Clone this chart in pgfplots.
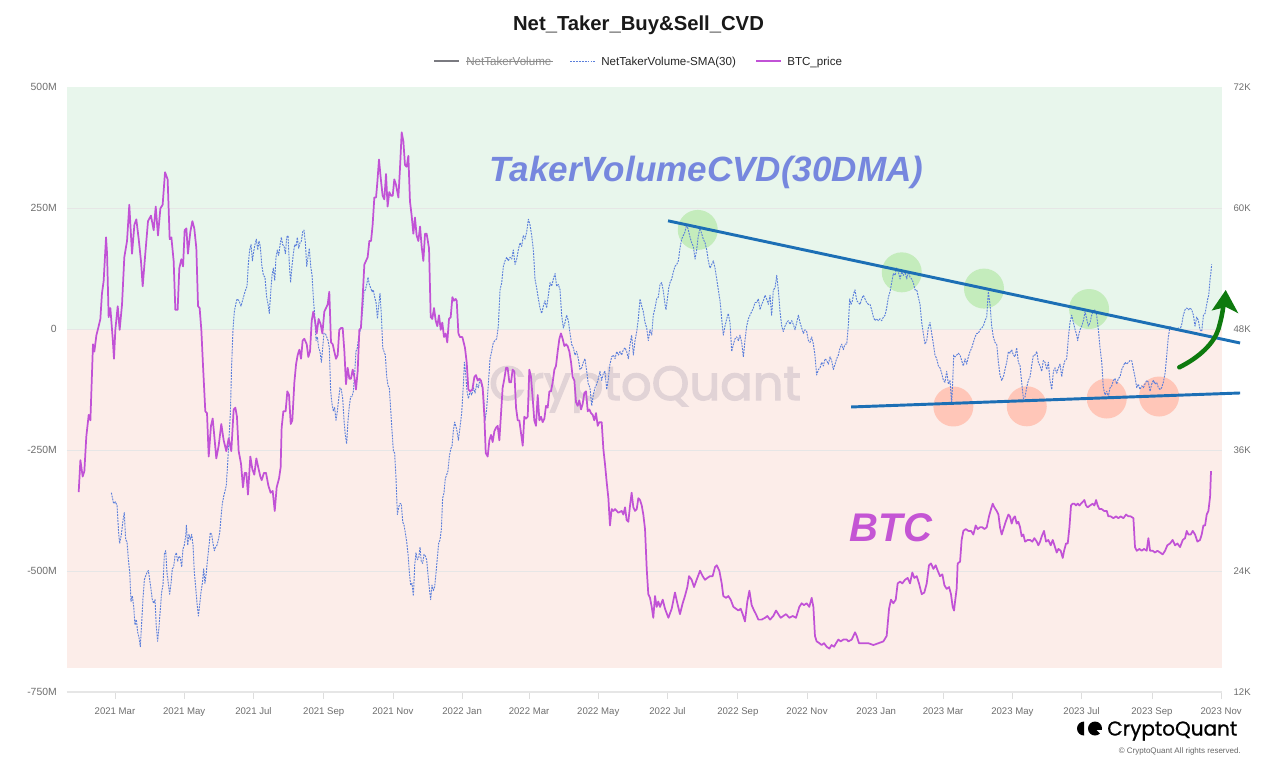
\documentclass[border=0pt]{standalone}
\usepackage{pgfplots}
\pgfplotsset{compat=1.18}
\usepackage{fontspec}
\setmainfont{Liberation Sans}
\newfontfamily\wmfont{Poppins}[FakeBold=2.4]
\newfontfamily\logofont{Poppins}[FakeBold=0.9]
\usetikzlibrary{arrows.meta}
\definecolor{greenbg}{HTML}{E8F6EC}
\definecolor{pinkbg}{HTML}{FCEDE9}
\definecolor{gridc}{HTML}{E6E6E6}
\definecolor{tickc}{HTML}{DDDDDD}
\definecolor{labelc}{HTML}{6E6E6E}
\definecolor{smac}{HTML}{5B7FDB}
\definecolor{btcc}{HTML}{C152D6}
\definecolor{wmc}{HTML}{E1D3D6}
\definecolor{trendc}{HTML}{1C6FB5}
\definecolor{gcirc}{HTML}{C4ECBC}
\definecolor{rcirc}{HTML}{FFC6B8}
\definecolor{takerc}{HTML}{7687DE}
\definecolor{btctxt}{HTML}{C455D4}
\definecolor{arrowc}{HTML}{0E7A0E}
\definecolor{leggray}{HTML}{7A7A80}
\begin{document}
\begin{tikzpicture}
\fill[white] (0,0) rectangle (960pt,-573.75pt);
\useasboundingbox (0,0) rectangle (960pt,-573.75pt);

\begin{axis}[
  at={(50.25pt,-519pt)}, anchor=south west,
  scale only axis, width=866.25pt, height=453.75pt,
  xmin=16.69, xmax=1034.8, ymin=-750, ymax=500,
  clip=false,
  axis line style={draw=none},
  xtick pos=bottom,
  xtick={59,120,181,243,304,365,424,485,546,608,669,730,789,850,911,973,1034},
  xticklabels={2021 Mar,2021 May,2021 Jul,2021 Sep,2021 Nov,2022 Jan,2022 Mar,2022 May,2022 Jul,2022 Sep,2022 Nov,2023 Jan,2023 Mar,2023 May,2023 Jul,2023 Sep,2023 Nov},
  ytick={-750,-500,-250,0,250,500},
  yticklabels={-750M,-500M,-250M,0,250M,500M},
  tick align=outside,
  major tick length=5.25pt,
  xtick style={draw=tickc, line width=0.6pt},
  ytick style={draw=none},
  /pgf/number format/assume math mode=true,
  xticklabel style={font=\fontsize{7.2}{8.6}\selectfont, text=labelc, yshift=-3pt},
  yticklabel style={font=\fontsize{7.8}{9}\selectfont, text=labelc, inner sep=0pt, xshift=-2.25pt},
]
\fill[greenbg] (axis cs:16.69,0) rectangle (axis cs:1034.8,500);
\fill[pinkbg] (axis cs:16.69,-700) rectangle (axis cs:1034.8,0);
\draw[gridc, line width=0.6pt] (axis cs:16.69,250) -- (axis cs:1034.8,250);
\draw[gridc, line width=0.6pt] (axis cs:16.69,0) -- (axis cs:1034.8,0);
\draw[gridc, line width=0.6pt] (axis cs:16.69,-250) -- (axis cs:1034.8,-250);
\draw[gridc, line width=0.6pt] (axis cs:16.69,-500) -- (axis cs:1034.8,-500);
\draw[gridc, line width=0.8pt] (axis cs:16.69,-750) -- (axis cs:1034.8,-750);
\node[anchor=base, text=wmc, font=\wmfont\fontsize{36}{40}\selectfont, inner sep=0pt] at (rel axis cs:0.5004,0.4826) {CryptoQuant};
% circles
\fill[gcirc] (axis cs:572.7,204.7) circle[radius=15pt];
\fill[gcirc] (axis cs:752.5,117.1) circle[radius=15pt];
\fill[gcirc] (axis cs:825.0,83.5) circle[radius=15pt];
\fill[gcirc] (axis cs:917.6,41.3) circle[radius=15pt];
\fill[rcirc] (axis cs:798.0,-160.1) circle[radius=15pt];
\fill[rcirc] (axis cs:862.7,-159.7) circle[radius=15pt];
\fill[rcirc] (axis cs:933.2,-143.6) circle[radius=15pt];
\fill[rcirc] (axis cs:979.3,-139.5) circle[radius=15pt];
% SMA
\addplot[smac, line width=0.7pt, dash pattern=on 1.4pt off 0.8pt, line join=round] coordinates {
(55.8,-338.3) (57.8,-360.7) (59.3,-357.0) (60.8,-364.5) (62.2,-420.6) (63.1,-443.1) (64.6,-424.4) (66.1,-394.4) (67.2,-379.5) (68.4,-435.6) (69.6,-439.3) (70.8,-476.8) (72.0,-502.9) (73.1,-562.8) (74.3,-551.6) (75.5,-574.0) (76.6,-611.5) (77.8,-600.3) (79.0,-626.5) (80.2,-637.7) (81.3,-656.4) (82.5,-607.7) (83.7,-555.3) (84.9,-517.9) (86.0,-510.4) (87.2,-502.9) (88.4,-499.2) (89.6,-517.9) (90.7,-536.6) (91.9,-559.1) (93.1,-566.6) (94.3,-559.1) (95.4,-615.2) (96.6,-645.2) (97.8,-615.2) (99.0,-577.8) (100.1,-544.1) (101.3,-529.1) (102.5,-465.5) (103.7,-458.0) (104.8,-502.9) (106.0,-525.4) (107.2,-547.9) (108.4,-525.4) (109.5,-495.5) (110.7,-491.7) (111.9,-469.3) (113.1,-461.8) (114.2,-480.5) (115.4,-469.3) (116.6,-473.0) (117.8,-491.7) (118.9,-454.3) (120.1,-446.8) (121.3,-428.1) (121.9,-405.6) (123.1,-446.8) (124.2,-424.4) (125.4,-435.6) (126.6,-424.4) (127.8,-446.8) (128.9,-502.9) (130.1,-532.9) (131.3,-566.6) (132.5,-592.8) (133.6,-570.3) (134.8,-544.1) (136.0,-525.4) (137.2,-495.5) (138.3,-525.4) (139.5,-502.9) (140.7,-473.0) (141.9,-446.8) (143.0,-420.6) (144.2,-424.4) (145.4,-443.1) (146.6,-458.0) (147.7,-450.6) (148.9,-446.8) (150.1,-435.6) (151.3,-420.6) (152.4,-390.7) (153.6,-360.7) (154.8,-345.8) (156.0,-334.5) (157.1,-323.3) (158.3,-278.4) (159.5,-226.0) (160.7,-173.6) (161.8,-76.3) (163.0,-1.5) (164.2,36.0) (165.4,50.9) (166.6,62.2) (168.3,58.4) (170.1,47.2) (171.8,62.2) (173.6,77.1) (175.4,88.4) (176.5,133.3) (177.7,163.2) (178.9,174.4) (180.1,140.8) (181.2,159.5) (182.4,174.4) (183.6,185.7) (184.8,163.2) (185.9,181.9) (187.1,170.7)
(188.3,133.3) (189.8,110.8) (191.2,107.1) (192.7,65.9) (194.2,47.2) (195.0,32.2) (196.2,73.4) (197.4,110.8) (198.6,125.8) (199.8,99.6) (200.9,148.2) (202.1,163.2) (203.3,152.0) (204.5,174.4) (205.6,189.4) (206.8,174.4) (208.0,170.7) (209.2,155.7) (210.3,189.4) (211.5,193.2) (212.7,133.3) (213.8,95.8) (215.0,129.5) (216.2,155.7) (217.4,174.4) (218.6,170.7) (219.7,189.4) (220.9,166.9) (222.1,178.2) (223.3,181.9) (224.4,200.6) (225.6,204.4) (226.8,178.2) (228.0,129.5) (229.1,148.2) (230.3,166.9) (231.5,129.5) (232.7,110.8) (233.8,65.9) (235.0,28.5) (236.2,-23.9) (237.4,-16.4) (238.5,-38.9) (239.7,-46.4) (240.9,-68.8) (242.1,-38.9) (243.2,-9.0) (244.4,-9.0) (245.6,-16.4) (246.8,-23.9) (247.9,-38.9) (249.1,-128.7) (250.3,-154.9) (251.5,-169.9) (252.6,-162.4) (253.8,-188.6) (255.0,-169.9) (256.2,-143.7) (257.3,-121.2) (258.5,-125.0) (259.7,-143.7) (260.9,-188.6) (262.0,-218.5) (263.2,-237.2) (264.4,-188.6) (265.6,-158.6) (266.7,-139.9) (267.9,-139.9) (269.1,-128.7) (270.3,-91.3) (271.4,-46.4) (272.6,-38.9) (273.8,-16.4) (275.0,-5.2) (276.1,13.5) (277.3,39.7) (278.5,77.1) (279.7,80.9) (280.9,92.1) (282.0,107.1) (283.2,92.1) (284.4,84.6) (285.6,77.1) (286.7,80.9) (287.9,65.9) (289.1,54.7) (290.3,21.0) (291.4,47.2) (292.6,73.4) (293.8,28.5) (295.0,-38.9) (296.1,-46.4) (297.3,-53.9) (298.5,-98.8) (299.7,-117.5) (300.8,-121.2) (302.0,-166.1) (303.2,-211.0) (304.4,-252.2) (305.5,-256.0) (306.7,-308.3) (307.9,-383.2) (309.1,-368.2) (310.2,-360.7) (311.4,-360.7) (312.6,-398.2) (313.8,-405.6) (314.9,-420.6) (316.1,-439.3) (317.3,-465.5) (318.5,-502.9) (319.6,-529.1) (320.8,-525.4) (322.0,-551.6) (323.2,-488.0) (324.3,-461.8) (325.5,-476.8) (326.7,-473.0) (327.9,-450.6) (329.0,-480.5) (330.2,-484.2) (331.4,-465.5) (332.6,-469.3) (333.7,-476.8) (334.9,-506.7) (336.1,-536.6) (337.3,-559.1) (338.4,-529.1) (339.6,-540.4) (340.8,-532.9) (342.0,-502.9) (343.1,-473.0) (344.3,-443.1) (345.5,-435.6) (346.7,-413.2) (347.8,-349.5) (349.0,-338.3) (350.2,-308.3) (351.4,-300.9) (352.5,-293.4) (353.7,-263.4) (354.9,-248.5) (356.1,-241.0) (357.2,-211.0) (358.4,-192.4)
(360.2,-207.3) (361.7,-229.8) (363.1,-203.6) (364.6,-173.6) (366.1,-113.7) (367.0,-68.8) (368.1,-91.3) (369.3,-128.7) (370.5,-143.7) (372.0,-128.7) (373.4,-136.2) (374.9,-121.2) (376.4,-132.4) (377.8,-113.7) (379.3,-121.2) (380.8,-102.5) (382.2,-117.5) (383.7,-128.7) (385.2,-188.6) (386.6,-166.1) (388.1,-113.7) (389.6,-61.4) (391.0,-46.4) (392.5,-27.7) (394.0,-23.9) (395.4,-20.2) (396.9,6.0) (398.4,80.9) (399.9,95.8) (401.3,129.5) (402.8,140.8) (404.3,148.2) (405.7,140.8) (407.2,148.2) (408.7,144.5) (410.1,163.2) (411.6,133.3) (413.1,144.5) (414.5,163.2) (416.0,178.2) (417.5,170.7) (418.9,193.2) (420.4,185.7) (421.9,200.6) (423.4,226.8) (424.8,215.6) (426.3,193.2) (427.8,163.2) (429.2,103.3) (430.7,84.6) (432.2,62.2) (433.6,43.4) (435.1,32.2) (436.6,47.2) (438.0,58.4) (439.5,43.4) (441.0,69.6) (442.5,95.8) (443.9,88.4) (445.4,103.3) (446.9,114.6) (448.3,88.4) (449.8,92.1) (451.3,80.9) (452.7,28.5) (454.2,2.2) (455.7,13.5) (457.1,28.5) (458.6,17.2) (460.1,-9.0) (461.5,-31.4) (463.0,-38.9) (464.5,-53.9) (465.9,-46.4) (467.4,-61.4) (468.9,-83.8) (470.4,-80.1) (471.8,-68.8) (473.3,-61.4) (474.8,-87.5) (476.2,-113.7) (477.7,-121.2) (479.2,-158.6) (480.6,-136.2) (482.1,-121.2) (483.6,-113.7) (485.1,-102.5) (486.5,-87.5) (488.0,-106.2) (489.5,-91.3) (490.9,-87.5) (492.4,-125.0) (493.9,-102.5) (495.3,-72.6) (496.8,-57.6) (498.3,-53.9) (499.8,-61.4) (501.2,-46.4) (502.7,-53.9) (504.2,-46.4) (505.6,-53.9) (507.1,-42.6) (508.6,-38.9) (510.0,-46.4) (511.5,-61.4) (513.0,-31.4) (514.4,-12.7) (515.9,-53.9) (517.4,-23.9) (518.9,-5.2) (520.3,21.0) (521.8,62.2) (523.3,47.2) (524.7,35.9) (526.2,13.5) (527.7,2.2) (529.1,-23.9) (530.6,-1.5)
(532.1,-12.7) (533.5,28.5) (535.0,43.4) (536.5,62.2) (537.9,65.9) (539.4,92.1) (540.9,95.8) (542.4,77.1) (543.8,50.9) (544.7,39.7) (545.9,62.2) (547.1,84.6) (548.2,95.8) (549.7,103.3) (551.2,118.3) (552.6,129.5) (554.1,133.3) (555.6,140.8) (557.0,166.9) (558.5,185.7) (560.0,193.2) (561.4,200.6) (562.9,215.6) (564.4,204.4) (565.9,189.4) (567.3,178.2) (568.8,170.7) (570.3,144.5) (571.7,163.2) (573.2,193.2) (574.7,208.1) (576.1,196.9) (577.6,185.7) (579.1,178.2) (580.6,163.2) (582.0,140.8) (583.5,125.8) (585.0,133.3) (586.4,140.8) (587.9,125.8) (589.4,103.3) (590.8,80.9) (592.3,58.4) (593.8,21.0) (595.2,-12.7) (596.7,6.0) (598.2,21.0) (599.6,32.2) (601.1,13.5) (602.6,-46.4) (604.1,-31.4) (605.5,-20.2) (607.0,-16.4) (608.5,-23.9) (609.9,-12.7) (611.4,-27.7) (612.9,-57.6) (614.3,-23.9) (615.8,6.0) (617.3,21.0) (618.7,28.5) (620.2,35.9) (621.7,43.4) (623.2,54.7) (624.6,54.7) (626.1,62.2) (627.6,39.7) (629.0,50.9) (630.5,58.4) (632.0,69.6) (633.4,62.2) (634.9,50.9) (636.4,69.6) (637.8,28.5) (639.3,80.9) (640.8,84.6) (642.3,110.8) (643.7,80.9) (645.2,35.9) (646.7,6.0) (648.1,-5.2) (649.6,6.0) (651.1,13.5) (652.5,17.2) (654.0,9.8) (655.5,17.2) (656.9,9.8) (658.4,-1.5) (659.9,13.5) (661.4,28.5) (662.8,13.5) (664.3,2.2) (665.8,-9.0) (667.2,-1.5) (668.7,-5.2) (670.2,-23.9) (671.6,-27.7) (673.1,-16.4) (674.6,-31.4) (676.0,-53.9) (677.5,-95.1) (679.0,-83.8) (680.5,-80.1) (681.9,-68.8) (683.4,-76.3) (684.9,-61.4) (686.3,-65.1) (687.8,-72.6) (689.3,-57.6) (690.7,-65.1) (692.2,-83.8) (693.7,-72.6) (695.1,-61.4) (696.6,-53.9) (698.1,-38.9) (699.6,-31.4) (701.0,-42.6) (702.5,-31.4)
(704.0,-31.4) (705.4,6.0) (706.6,62.2) (707.8,50.9) (709.0,58.4) (710.1,73.4) (711.3,80.9) (712.8,58.4) (714.3,54.7) (715.7,50.9) (717.2,62.2) (718.7,69.6) (720.1,62.2) (721.6,54.7) (723.1,50.9) (724.5,50.9) (726.0,39.7) (727.5,24.7) (728.9,17.2) (730.4,21.0) (731.9,17.2) (733.3,21.0) (734.8,17.2) (736.3,24.7) (737.8,28.5) (739.2,43.4) (740.7,65.9) (742.2,77.1) (743.6,95.8) (745.1,114.6) (746.6,110.8) (748.0,125.8) (749.5,118.3) (751.0,103.3) (752.4,118.3) (753.9,110.8) (755.4,118.3) (756.9,103.3) (758.3,118.3) (759.8,107.1) (761.3,103.3) (762.7,95.8) (764.2,80.9) (765.7,80.9) (767.1,65.9) (768.6,50.9) (770.1,13.5) (771.5,-9.0) (773.0,-31.4) (774.5,-23.9) (775.9,2.2) (777.4,13.5) (778.9,-9.0) (780.4,-31.4) (781.8,-53.9) (783.3,-61.4) (784.8,-76.3) (786.2,-80.1) (787.7,-91.3) (789.2,-106.2) (790.6,-110.0) (792.1,-87.5) (793.6,-113.7) (795.0,-106.2) (796.5,-151.2) (797.4,-110.0) (798.3,-53.9) (799.5,-57.6) (800.9,-53.9) (802.4,-50.1) (803.9,-53.9) (805.3,-65.1) (806.8,-76.3) (808.3,-61.4) (809.7,-72.6) (811.2,-57.6) (812.7,-46.4) (814.2,-38.9) (815.6,-27.7) (817.1,-16.4) (818.6,-9.0) (820.0,-9.0) (821.5,-1.5) (823.0,2.2) (824.4,6.0) (825.9,17.2) (827.4,24.7) (828.8,77.1) (830.3,50.9) (831.8,6.0) (833.2,-16.4) (834.7,-27.7) (836.2,-31.4) (837.7,-68.8) (839.1,-95.1) (840.6,-106.2) (842.1,-98.8) (843.5,-83.8) (845.0,-68.8) (846.5,-46.4) (847.9,-50.1) (849.4,-42.6) (850.9,-53.9) (852.3,-57.6) (853.8,-38.9) (855.3,-68.8) (856.8,-76.3) (858.2,-110.0) (859.7,-143.7) (861.2,-140.0) (862.6,-121.2) (864.1,-106.2) (865.6,-98.8) (867.0,-76.3) (868.5,-53.9) (870.0,-53.9) (871.5,-46.4) (872.9,-68.8) (874.4,-76.3)
(875.9,-87.5) (877.3,-65.1) (878.8,-68.8) (880.3,-83.8) (881.7,-68.8) (883.2,-106.2) (884.7,-125.0) (886.2,-87.5) (887.6,-80.1) (889.1,-91.3) (890.6,-80.1) (892.0,-72.6) (893.5,-98.8) (895.0,-76.3) (896.4,-65.1) (897.9,-61.4) (899.4,-16.4) (900.8,13.5) (902.3,28.5) (903.8,13.5) (905.3,-1.5) (906.7,-12.7) (907.6,-23.9) (908.8,-9.0) (909.7,-1.5) (911.1,6.0) (912.6,17.2) (914.1,35.9) (915.5,21.0) (917.0,6.0) (918.5,13.5) (919.9,28.5) (921.4,35.9) (922.9,39.7) (924.3,28.5) (925.8,-1.5) (927.3,-38.9) (928.8,-68.8) (930.2,-121.2) (931.7,-136.2) (933.2,-128.7) (934.6,-140.0) (936.1,-121.2) (937.6,-117.5) (939.0,-106.2) (940.5,-102.5) (942.0,-113.7) (943.4,-102.5) (944.9,-98.8) (946.4,-83.8) (947.9,-76.3) (949.3,-68.8) (950.8,-72.6) (952.3,-68.8) (953.7,-65.1) (955.2,-65.1) (956.7,-83.8) (958.1,-98.8) (959.6,-121.2) (961.1,-113.7) (962.5,-125.0) (964.0,-117.5) (965.5,-121.2) (966.9,-113.7) (968.4,-106.2) (969.9,-110.0) (971.4,-128.7) (972.8,-113.7) (974.3,-106.2) (975.8,-113.7) (977.2,-110.0) (978.7,-121.2) (980.2,-125.0) (981.6,-121.2) (983.1,-110.0) (984.6,-91.3) (986.1,-53.9) (987.5,-16.4) (989.0,6.0) (990.5,2.2) (991.9,0) (993.4,2.2) (994.9,-1.5) (996.3,2.2) (997.8,-1.5) (999.3,9.8) (1000.7,28.5) (1002.2,39.7) (1003.7,43.4) (1005.2,39.7) (1006.6,43.4) (1008.1,39.7) (1009.6,28.5) (1011.0,6.0) (1012.5,24.7) (1014.0,17.2) (1015.4,-1.5) (1016.9,-5.2) (1018.4,28.5) (1019.9,32.2) (1021.3,50.9) (1022.2,62.2) (1023.1,69.6) (1024.3,103.3) (1025.1,118.3) (1025.7,133.3)
};
% trend lines
\draw[trendc, line width=2.2pt] (axis cs:546.5,223.5) -- (axis cs:1050.7,-28.9);
\draw[trendc, line width=2.2pt] (axis cs:707.8,-161.1) -- (axis cs:1050.7,-132.2);
\end{axis}

\begin{axis}[
  at={(50.25pt,-519pt)}, anchor=south west,
  scale only axis, width=866.25pt, height=453.75pt,
  xmin=16.69, xmax=1034.8, ymin=12, ymax=72,
  hide x axis,
  axis y line*=right,
  axis line style={draw=none},
  ytick={12,24,36,48,60,72},
  yticklabels={12K,24K,36K,48K,60K,72K},
  ytick style={draw=none},
  yticklabel style={font=\fontsize{7.2}{8.6}\selectfont, text=labelc, anchor=west, inner sep=0pt, xshift=8.5pt},
]
\addplot[btcc, line width=1.3pt, line join=round] coordinates {
(27.0,31.83) (28.5,34.99) (30.5,33.37) (32.0,33.91) (33.7,37.32) (35.8,39.48) (37.3,38.94) (39.6,46.49) (40.8,45.77) (42.6,47.38) (44.6,48.28) (46.1,49.0) (47.5,51.52) (49.0,52.77) (51.1,57.09) (52.0,55.47) (53.4,49.18) (54.9,50.08) (57.0,47.03) (58.1,45.05) (59.3,47.92) (61.4,50.26) (63.1,47.92) (65.2,50.44) (67.2,55.11) (69.6,56.73) (71.6,60.32) (74.0,55.47) (76.1,58.34) (77.8,58.88) (79.9,56.91) (81.9,54.75) (83.4,52.24) (85.7,55.47) (88.1,58.70) (90.7,59.24) (93.1,57.80) (94.9,60.14) (96.9,57.27) (99.0,59.96) (101.0,60.32) (103.1,63.55) (105.4,62.84) (107.2,56.91) (108.7,57.09) (110.7,54.75) (112.2,49.90) (114.2,49.90) (115.7,54.03) (117.5,54.93) (119.0,54.21) (120.4,57.80) (121.9,57.98) (123.3,55.47) (125.4,57.63) (127.2,58.70) (128.9,57.98) (130.7,56.01) (132.2,50.26) (133.6,50.08) (135.1,47.92) (136.6,44.33) (138.6,39.84) (140.1,39.66) (141.6,35.35) (143.6,38.40) (145.1,39.12) (146.6,37.32) (148.3,35.17) (150.4,36.43) (152.7,38.58) (154.8,36.96) (157.1,35.89) (159.2,37.15) (161.5,35.89) (163.6,40.02) (165.1,40.20) (166.5,39.30) (168.0,35.89) (170.1,34.63) (171.8,32.30) (173.3,33.73) (174.8,33.73) (176.2,31.58) (178.3,35.35) (180.1,34.09) (181.8,33.55) (183.6,35.17) (185.3,34.27) (187.1,33.37)
(188.3,33.01) (190.3,33.73) (192.1,33.73) (194.2,32.47) (196.2,31.76) (198.0,31.94) (199.8,29.96) (201.5,32.29) (203.6,33.19) (205.0,34.27) (205.9,38.22) (207.4,39.84) (209.4,39.84) (210.9,41.82) (212.4,41.46) (213.9,38.58) (215.3,38.94) (217.1,42.71) (218.6,44.51) (220.0,45.41) (221.5,45.95) (223.0,45.05) (224.4,46.85) (225.9,47.03) (228.0,46.49) (229.4,45.23) (230.9,45.77) (232.4,48.82) (233.8,49.72) (235.3,48.82) (236.8,47.56) (238.5,49.0) (240.3,48.46) (241.8,47.56) (243.5,49.72) (245.0,50.08) (246.5,50.44) (247.9,51.70) (249.4,46.67) (250.9,46.49) (252.3,45.77) (253.8,45.05) (255.3,45.41) (256.7,47.92) (258.2,48.10) (259.7,48.10) (261.2,45.77) (262.6,42.53) (264.1,44.15) (265.6,43.07) (267.0,43.07) (268.5,43.97) (270.0,43.25) (271.4,42.0) (272.9,43.79) (274.4,47.92) (275.8,48.10) (277.3,51.16) (278.8,54.39) (280.2,54.75) (281.7,55.11) (283.2,56.73) (284.7,56.73) (286.1,58.34) (287.6,61.04) (289.1,61.04) (290.2,62.48) (291.7,64.81) (293.2,63.01) (294.9,61.22) (296.4,60.86) (297.9,63.37) (299.3,60.14) (300.8,61.58) (302.3,61.22) (303.8,61.22) (305.2,62.84) (306.7,62.30) (308.8,61.04) (310.2,63.91) (311.7,67.51) (313.2,66.61) (314.6,64.27) (316.1,64.09) (317.6,65.17) (319.0,60.68) (320.5,59.24) (322.0,57.45) (323.4,59.06) (324.9,57.27) (326.4,56.73) (327.9,58.16) (329.3,56.19) (330.8,54.75) (332.3,57.45) (333.7,57.45) (335.8,56.01) (337.3,49.18) (338.7,49.0) (340.2,50.08) (341.7,48.82) (343.1,48.28) (344.6,49.36) (346.1,47.92) (347.5,48.64) (349.0,47.21) (350.5,47.56) (351.9,46.67) (353.4,49.0) (354.9,49.18) (356.4,51.16) (357.8,50.80) (359.3,50.98)
(360.2,50.80) (361.7,47.56) (363.1,47.20) (365.2,47.20) (367.5,46.13) (369.0,44.69) (370.5,42.0) (372.0,41.82) (374.0,42.0) (375.8,43.25) (377.2,43.43) (378.7,42.89) (380.2,43.07) (381.6,42.89) (383.1,42.18) (384.6,39.30) (385.8,35.71) (387.5,35.35) (389.0,36.96) (390.5,37.50) (391.9,36.79) (393.4,37.86) (394.9,38.22) (396.3,38.40) (397.8,36.96) (399.3,39.66) (400.7,42.18) (402.2,43.07) (403.7,44.15) (405.1,44.15) (406.6,42.71) (408.1,42.71) (409.5,43.97) (411.0,43.79) (412.5,40.20) (414.0,38.94) (415.4,38.94) (416.9,37.68) (418.4,36.43) (419.8,39.30) (421.3,39.12) (422.8,39.30) (424.2,43.97) (425.7,43.25) (427.2,41.10) (428.6,38.94) (430.1,38.40) (431.6,41.46) (433.1,38.94) (434.5,39.30) (436.0,38.76) (437.5,39.12) (438.9,40.38) (440.4,40.20) (441.9,41.82) (443.3,41.82) (444.8,42.71) (446.3,43.97) (447.7,44.33) (449.2,45.77) (450.7,47.03) (452.1,47.56) (453.6,47.03) (455.1,46.31) (456.6,46.49) (458.0,46.31) (459.5,45.77) (461.0,44.69) (462.4,43.25) (463.9,42.89) (465.4,40.74) (466.8,40.38) (468.3,40.92) (469.8,40.02) (471.2,40.56) (472.7,41.64) (474.2,41.82) (475.7,39.84) (477.1,40.02) (478.6,39.66) (480.1,39.48) (481.5,38.94) (483.0,39.66) (484.5,38.40) (485.9,38.76) (488.0,38.76) (489.5,36.07) (490.9,34.63) (492.4,32.83) (493.9,31.22) (495.3,28.52) (496.8,30.14) (498.3,29.96) (499.8,30.14) (502.7,29.78) (505.6,29.96) (507.1,29.60) (508.6,30.32) (510.0,29.06) (511.5,28.88) (513.0,30.50) (514.4,31.76) (515.9,30.32) (517.4,29.96) (518.9,30.14) (520.3,31.22) (521.8,31.04) (523.3,30.50) (524.7,29.60) (526.2,28.16) (527.7,24.21) (529.1,21.70) (530.6,21.34) (532.1,20.44)
(533.5,19.36) (535.0,21.52) (536.5,20.44) (537.9,20.98) (539.4,20.44) (541.8,21.16) (543.8,20.26) (546.8,19.36) (549.7,20.26) (552.6,21.87) (554.7,20.80) (557.0,19.72) (559.4,20.80) (561.4,21.52) (563.5,22.41) (565.0,23.49) (567.3,23.13) (569.4,22.41) (571.7,23.13) (574.7,24.03) (577.0,23.49) (579.1,23.13) (581.1,23.31) (583.5,23.49) (585.8,23.49) (587.9,24.39) (589.4,24.57) (591.7,24.03) (593.8,22.77) (595.2,21.52) (597.6,21.34) (599.6,21.52) (601.7,21.16) (604.1,20.44) (606.4,20.26) (608.5,20.08) (610.5,20.26) (612.3,19.72) (614.3,19.0) (616.4,20.98) (618.2,22.05) (620.2,20.62) (622.3,20.08) (624.0,19.72) (626.1,19.18) (629.0,19.18) (632.0,19.36) (634.0,19.54) (636.4,19.18) (639.3,19.54) (641.7,20.08) (643.7,19.72) (645.8,19.36) (648.1,19.54) (650.5,19.72) (653.4,19.36) (656.4,19.54) (659.3,19.36) (662.2,20.44) (664.3,20.80) (666.3,20.62) (668.7,20.80) (671.0,20.44) (673.1,21.34) (674.6,20.44) (676.0,17.56) (677.5,17.02) (679.9,16.84) (681.9,16.66) (684.0,16.84) (686.3,16.49) (688.7,16.31) (690.7,16.66) (692.8,16.49) (694.6,16.84) (696.6,17.20) (698.7,17.02) (701.0,17.20) (704.0,17.20)
(705.4,17.02) (708.4,17.20) (711.3,17.92) (712.8,17.56) (714.8,16.84) (718.7,16.84) (723.1,16.84) (727.5,16.66) (731.9,16.84) (736.3,17.02) (739.2,17.56) (741.3,20.26) (743.0,21.16) (745.1,20.80) (747.2,21.16) (748.9,22.77) (751.0,22.95) (753.0,22.77) (755.4,23.13) (757.7,23.31) (759.8,22.77) (761.8,23.85) (763.6,23.31) (765.7,23.49) (767.7,22.77) (770.1,21.70) (772.4,21.87) (774.5,22.77) (776.5,24.57) (778.3,24.75) (780.4,24.21) (782.4,24.57) (784.2,24.03) (786.2,23.49) (788.3,23.67) (790.1,22.59) (792.1,22.23) (794.2,22.41) (795.9,21.70) (797.4,20.44) (798.6,20.08) (799.5,20.98) (800.9,22.23) (801.8,24.75) (803.9,24.93) (805.3,27.08) (806.8,27.98) (808.9,28.16) (811.2,27.98) (813.6,27.98) (815.6,27.62) (817.7,28.52) (819.4,28.16) (821.5,28.34) (823.6,28.34) (825.3,28.16) (827.4,28.34) (829.4,29.42) (831.2,30.14) (832.7,30.68) (834.1,30.32) (836.2,29.96) (837.7,29.60) (839.1,28.34) (840.6,27.62) (842.1,28.16) (844.1,28.88) (846.5,29.60) (847.9,29.42) (849.4,28.70) (850.9,29.24) (852.3,29.42) (853.8,28.70) (855.3,28.88) (856.8,28.34) (858.2,27.44) (859.7,27.62) (861.2,26.91) (863.5,27.08) (865.6,27.08) (867.6,26.91) (869.4,27.26) (871.5,26.91) (872.9,26.55) (874.4,26.91)
(875.9,27.44) (877.9,27.98) (879.7,26.91) (881.7,27.08) (883.8,26.55) (885.6,27.08) (887.6,26.37) (889.1,25.83) (890.6,26.19) (892.6,26.01) (894.4,25.29) (895.6,26.01) (897.3,26.73) (898.8,26.73) (900.3,28.34) (901.7,30.50) (903.2,30.68) (904.7,30.68) (906.1,30.50) (907.6,30.68) (909.1,30.50) (910.5,30.68) (912.0,30.86) (913.5,31.04) (914.9,30.50) (916.4,30.32) (918.5,30.50) (920.8,30.68) (922.3,30.50) (923.8,31.04) (925.2,30.50) (926.7,30.14) (928.8,30.14) (930.8,29.96) (933.2,29.96) (934.6,29.42) (936.7,29.42) (939.0,29.24) (941.4,29.42) (943.4,29.24) (945.5,29.42) (947.9,29.24) (950.2,29.60) (952.3,29.42) (954.3,29.42) (956.7,29.24) (958.1,26.37) (959.6,26.01) (962.0,26.19) (964.0,26.01) (966.1,26.19) (968.4,26.01) (969.9,27.26) (971.4,26.01) (973.7,26.01) (975.8,25.83) (977.8,26.01) (980.2,25.83) (982.5,25.65) (984.6,26.01) (986.6,26.55) (989.0,26.73) (991.3,27.08) (993.4,26.55) (995.5,26.73) (997.8,26.37) (1000.2,27.08) (1002.2,27.26) (1003.7,27.98) (1005.2,27.62) (1007.2,27.62) (1009.0,27.98) (1011.0,27.62) (1013.1,26.91) (1015.4,27.08) (1016.9,27.62) (1018.4,28.52) (1019.9,28.52) (1021.3,29.60) (1022.8,29.96) (1024.3,31.40) (1025.1,33.91)
};
\end{axis}

\begin{scope}[x=0.75pt,y=-0.75pt]
% title
\node[anchor=base, font=\bfseries\fontsize{15.2}{18}\selectfont, text=black!90, inner sep=0pt] at (638.5,30) {Net\_Taker\_Buy\&Sell\_CVD};
% legend
\draw[leggray, line width=1.1pt] (434,61) -- (459,61);
\node[anchor=base west, inner sep=0pt, font=\fontsize{8.7}{10}\selectfont, text=black!45] at (466,65) {NetTakerVolume};
\draw[black!45, line width=0.6pt] (466,61.3) -- (553,61.3);
\draw[smac, line width=0.7pt, dash pattern=on 1.4pt off 0.8pt] (570,61) -- (596,61);
\node[anchor=base west, inner sep=0pt, font=\fontsize{8.7}{10}\selectfont, text=black!85] at (601,65) {NetTakerVolume-SMA(30)};
\draw[btcc, line width=1.2pt] (756,61) -- (781,61);
\node[anchor=base west, inner sep=0pt, font=\fontsize{8.7}{10}\selectfont, text=black!85] at (787,65) {BTC\_price};
% annotation texts
\node[anchor=base, inner sep=0pt, text=takerc, font=\bfseries\itshape\fontsize{26.3}{30}\selectfont] at (706.5,181.5) {TakerVolumeCVD(30DMA)};
\node[anchor=base, inner sep=0pt, text=btctxt, font=\bfseries\itshape\fontsize{30}{34}\selectfont] at (891,541) {BTC};
% arrow
\draw[arrowc, line width=3.4pt, line cap=round] (1179.3,367.3) .. controls (1200,357) and (1214,343) .. (1218.3,329.3) .. controls (1221,320) and (1222.5,313) .. (1223.3,306);
\fill[arrowc] (1225.7,290) -- (1238.3,313.3) -- (1226,307) -- (1211.7,310.5) -- cycle;
% logo
\fill[black] (1084,721.5) arc[start angle=270, end angle=90, radius=7] -- cycle;
\fill[black] (1095,728.5) circle[radius=7];
\fill[white] (1096.5,730) -- (1103,730) -- (1103,736.5) -- cycle;
\node[anchor=base west, inner sep=0pt, font=\logofont\fontsize{15}{17}\selectfont] at (1107,735.5) {CryptoQuant};
\node[anchor=base east, inner sep=0pt, font=\fontsize{6}{7}\selectfont, text=black!60] at (1241,753.5) {\textcopyright{} CryptoQuant All rights reserved.};
\end{scope}
\end{tikzpicture}
\end{document}
